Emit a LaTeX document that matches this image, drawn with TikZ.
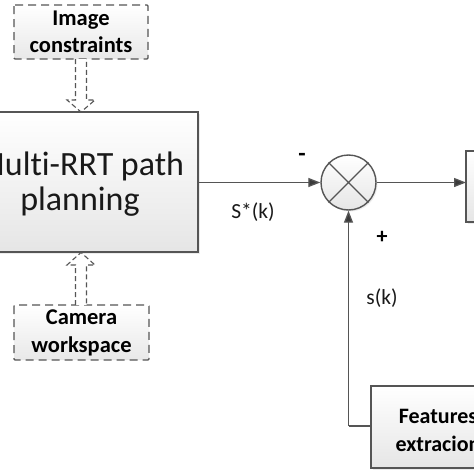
\documentclass[tikz,border=0pt]{standalone}
\usepackage{fontspec}
\setmainfont{Carlito}[Ligatures=NoCommon]
\usetikzlibrary{arrows.meta,shadows}
\definecolor{edge}{HTML}{555555}
\definecolor{tipc}{HTML}{3A3A3A}
\begin{document}
\begin{tikzpicture}[x=1pt,y=-1pt,
  blockbox/.style={draw=edge,line width=1.4pt,top color=white,bottom color=black!10,drop shadow={opacity=0.15,shadow xshift=1.5pt,shadow yshift=-1.5pt}},
  dashbox/.style={draw=edge,line width=1.3pt,dash pattern=on 8pt off 5pt,top color=white,bottom color=black!9,rounded corners=1pt},
  hollow/.style={draw=edge,line width=1.1pt,dash pattern=on 5pt off 3pt,fill=white},
  conn/.style={draw=edge,line width=1.3pt,-{Triangle[length=12pt,width=9pt,fill=tipc]}},
  plainconn/.style={draw=edge,line width=1.3pt},
  lbl/.style={font=\fontsize{21.5}{24}\selectfont,text=black!90}
]
\useasboundingbox (0,0) rectangle (474,474);
\clip (0,0) rectangle (474,474);
\fill[white] (0,0) rectangle (474,474);

% main block
\path[blockbox] (-40,112) rectangle (198,252);
\node[font=\fontsize{34}{35}\selectfont,align=center,text=black!90] (plan) at (80,184) {Multi-RRT path\\planning};
\coordinate (planR) at (198,182.5);

% image constraints
\path[dashbox] (14,5) rectangle (148,59);
\node[font=\bfseries\fontsize{22.5}{27}\selectfont,align=center,text=black] (img) at (81,32) {Image\\constraints};

% camera workspace
\path[dashbox] (14,305) rectangle (149,360);
\node[font=\bfseries\fontsize{22.5}{28}\selectfont,align=center,text=black] (cam) at (81.5,333) {Camera\\workspace};

% hollow arrows
\path[hollow] (75.5,59) -- (75.5,100) -- (67,100) -- (81,112) -- (95,100) -- (86.5,100) -- (86.5,59);
\path[hollow] (75.5,305) -- (75.5,265) -- (67,265) -- (81,252.5) -- (95,265) -- (86.5,265) -- (86.5,305);

% summing junction
\node[circle,minimum size=55pt,inner sep=0pt,draw=edge,line width=1.4pt,top color=white,bottom color=black!10,drop shadow={opacity=0.15,shadow xshift=1.5pt,shadow yshift=-1.5pt}] (sum) at (348.5,182.5) {};
\draw[edge,line width=1.2pt] (sum.north west) -- (sum.south east) (sum.north east) -- (sum.south west);

% right block
\path[blockbox] (466,151) rectangle (520,222);
\coordinate (ctrl) at (466,182.5);

% features block
\path[blockbox] (371,386) rectangle (510,468);
\node[font=\bfseries\fontsize{22}{28}\selectfont,align=center,text=black] (feat) at (438,430) {Features\\extracion};
\coordinate (featL) at (371,426);
\coordinate (corner) at (348.5,426);

% connectors
\draw[conn] (planR) -- (sum.west);
\draw[conn] (sum.east) -- (ctrl);
\draw[plainconn] (featL) -- (corner);
\draw[conn] (corner) -- (sum.south);

% labels
\node[font=\bfseries\fontsize{24}{24}\selectfont] (minus) at (302,157) {-};
\node[font=\bfseries\fontsize{22}{24}\selectfont] (plus) at (382,237) {+};
\node[lbl] (sstar) at (253,212) {S*(k)};
\node[lbl] (sk) at (382,298) {s(k)};
\end{tikzpicture}
\end{document}
